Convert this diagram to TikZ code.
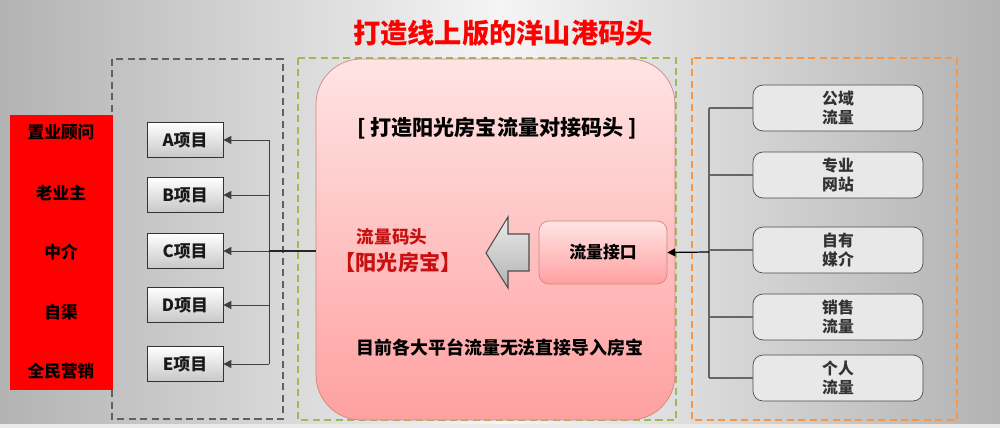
\documentclass[tikz,border=0pt]{standalone}
\usepackage{fontspec}
\setmainfont{Noto Sans CJK SC}
\usetikzlibrary{arrows.meta}
\definecolor{dockRed}{RGB}{255,0,0}
\definecolor{darkRed}{RGB}{200,16,16}
\definecolor{pinkTop}{RGB}{255,228,228}
\definecolor{pinkBot}{RGB}{255,160,160}
\definecolor{pinkEdge}{RGB}{214,130,130}
\definecolor{frameGray}{RGB}{96,96,96}
\definecolor{frameGreen}{RGB}{155,187,89}
\definecolor{frameOrange}{RGB}{247,150,70}

\begin{document}
\begin{tikzpicture}[x=0.02cm, y=-0.02cm,
  item/.style={draw=black!80, top color=white, bottom color=black!22,
    minimum width=1.52cm, minimum height=0.7cm, text=black!90,
    font=\bfseries\fontsize{9.6}{11}\selectfont},
  source/.style={draw=black!70, fill=black!9, rounded corners=0.2cm,
    minimum width=3.4cm, minimum height=0.92cm, align=center, text=black!80,
    font=\bfseries\fontsize{9}{10.8}\selectfont},
  crowd/.style={font=\bfseries\fontsize{9.5}{11}\selectfont},
  frame/.style={dash pattern=on 4pt off 2.5pt, line width=0.8pt},
  arrow/.style={-{Triangle[length=4.5pt,width=4.5pt]}}]

  \useasboundingbox (0,0) rectangle (1000,428);

  % grey backdrop, light in the middle
  \shade[left color=black!30, right color=black!30, middle color=black!4]
    (0,0) rectangle (1000,424);
  \fill[black!8] (0,424) rectangle (1000,428);

  % title
  \node[text=dockRed, font=\bfseries\fontsize{15.5}{17}\selectfont] (title) at (503,33) {打造线上版的洋山港码头};

  % dashed frames
  \draw[frame, frameGray] (112,59) rectangle (283,419);
  \draw[frame, frameGreen] (298,58) rectangle (676,420);
  \draw[frame, frameOrange] (692,58) rectangle (957,420);

  % red column of sellers
  \node[fill=dockRed, minimum width=2.06cm, minimum height=5.5cm, inner sep=0pt] (sellers) at (61.5,252.5) {};
  \node[crowd] (s1) at (61,132) {置业顾问};
  \node[crowd] (s2) at (61,193) {老业主};
  \node[crowd] (s3) at (61,252) {中介};
  \node[crowd] (s4) at (61,312) {自渠};
  \node[crowd] (s5) at (61,371) {全民营销};

  % big pink dock
  \node[draw=pinkEdge, top color=pinkTop, bottom color=pinkBot, rounded corners=0.9cm,
    minimum width=7.18cm, minimum height=7.22cm] (dock) at (495.5,239.5) {};
  \node[font=\bfseries\fontsize{12}{14}\selectfont] (dockTitle) at (497,128) {[ 打造阳光房宝流量对接码头 ]};
  \node[text=darkRed, font=\bfseries\fontsize{10}{11}\selectfont] (pier) at (392,237) {流量码头};
  \node[text=darkRed, font=\bfseries\fontsize{12}{14}\selectfont] (brand) at (398,262) {【阳光房宝】};
  \node[font=\bfseries\fontsize{10.2}{12}\selectfont] (note) at (500,348) {目前各大平台流量无法直接导入房宝};

  % interface box
  \node[draw=pinkEdge, top color=pinkTop, bottom color=pinkBot, rounded corners=0.2cm,
    minimum width=2.56cm, minimum height=1.26cm, font=\bfseries\fontsize{9.6}{11}\selectfont] (port) at (603,252.5) {流量接口};

  % block arrow pointing left
  \shade[top color=black!8, bottom color=black!30, draw=black!70, line width=0.6pt]
    (486,253) -- (508,217) -- (508,234) -- (529,234) -- (529,271) -- (508,271) -- (508,288) -- cycle;

  % projects on the left
  \coordinate (bus) at (269,251);
  \foreach \n/\y in {A/140,B/195,C/251,D/305,E/364}{
    \node[item] (item\n) at (185,\y) {\n{}项目};
    \draw[arrow, black!75] (bus|-item\n) -- (item\n.east);
  }
  \draw[black!75] (bus|-itemA) -- (bus|-itemE);
  \draw[black!85, line width=0.7pt] (dock.west|-bus) -- (bus);

  % traffic sources on the right
  \coordinate (feed) at (709,252);
  \foreach \name/\txt/\y in {pub/{公域\\流量}/108, web/{专业\\网站}/175, media/{自有\\媒介}/250, sale/{销售\\流量}/317, own/{个人\\流量}/378}{
    \node[source] (\name) at (838,\y) {\txt};
    \draw[black!60, line width=0.7pt] (\name.west) -- (feed|-\name);
  }
  \draw[black!60, line width=0.7pt] (feed|-pub) -- (feed|-own);
  \draw[arrow, line width=0.7pt] (feed) -- (port.east);

\end{tikzpicture}
\end{document}
